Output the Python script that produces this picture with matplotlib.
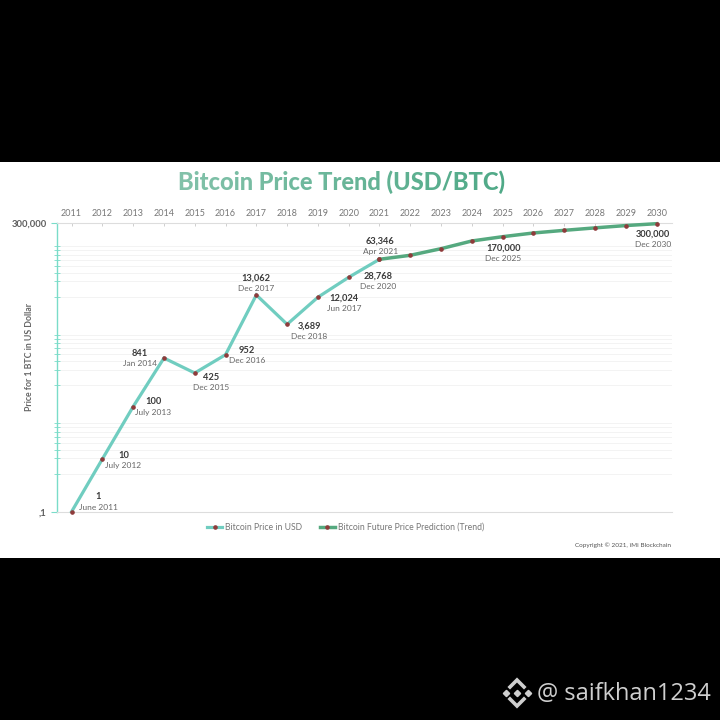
import numpy as np
import matplotlib
matplotlib.use("Agg")
import matplotlib.pyplot as plt
from matplotlib.lines import Line2D
from matplotlib.patches import Rectangle
from matplotlib.ticker import FixedLocator, NullFormatter

plt.rcParams['font.family'] = ['Lato', 'DejaVu Sans']

# Values as read from the chart's logarithmic gridlines (the printed price
# labels do not follow that axis, so they are kept separately).
history_years = [2011, 2012, 2013, 2014, 2015, 2016, 2017, 2018, 2019, 2020, 2021]
history_values = [0.1, 0.394, 1.54, 5.45, 3.69, 5.94, 28.1, 13.1, 26.5, 44.5, 71.1]
forecast_years = [2021, 2022, 2023, 2024, 2025, 2026, 2027, 2028, 2029, 2030]
forecast_values = [71.1, 78.9, 93.7, 114.5, 128, 141, 151, 161, 171, 179.5]

label_years = [2011, 2012, 2013, 2014, 2015, 2016, 2017, 2018, 2019, 2020, 2021, 2025, 2030]
label_prices = ['1', '10', '100', '841', '425', '952', '13,062', '3,689', '12,024',
                '28,768', '63,346', '170,000', '300,000']
label_dates = ['June 2011', 'July 2012', 'July 2013', 'Jan 2014', 'Dec 2015', 'Dec 2016',
               'Dec 2017', 'Dec 2018', 'Jun 2017', 'Dec 2020', 'Apr 2021', 'Dec 2025', 'Dec 2030']
label_offsets = [(26.5, 14.7), (21, 3.3), (20, 4.7), (-24, 5), (16.5, -4.5), (21.6, 4.2),
                 (0, 17), (22.5, -1.7), (26, -0.6), (29.5, 0.8), (0.7, 17.8), (0.6, -11.3),
                 (-3.7, -10.3)]

x_ticks = list(range(2011, 2031))
y_bottom, y_top = 0.1, 180.4
y_tick_values = [y_bottom, y_top]
y_tick_labels = [',1', '300,000']
minor_subs = [2.7, 4, 5, 6, 7, 8, 9, 10]
minor_decades = [0.1, 1, 10]

TEAL = '#70cdc0'
GREEN = '#55a97f'
MARK = '#8f3b3b'
AXIS = '#7adcc9'
GRID = '#f3f3f3'

W = H = 720
fig = plt.figure(figsize=(7.2, 7.2), dpi=100, facecolor='black')
fig.add_artist(Rectangle((0, 1 - 558 / H), 1, 396 / H, transform=fig.transFigure,
                         facecolor='white', edgecolor='none', zorder=-5))

ax = fig.add_axes([56.5 / W, 1 - 511.7 / H, (672 - 56.5) / W, (511.7 - 223.5) / H])
ax.patch.set_alpha(0)
ax.set_yscale('log')
ax.set_xlim(2010.51, 2030.5)
ax.set_ylim(y_bottom, y_top)

minor_values = sorted(s * d for d in minor_decades for s in minor_subs if s * d < y_top)
ax.yaxis.set_major_locator(FixedLocator(y_tick_values))
ax.set_yticklabels(y_tick_labels)
ax.yaxis.set_minor_locator(FixedLocator(minor_values))
ax.yaxis.set_minor_formatter(NullFormatter())
ax.grid(True, which='minor', axis='y', color=GRID, lw=0.7)
ax.set_axisbelow(True)

ax.set_xticks(x_ticks)
ax.set_xticklabels([str(y) for y in x_ticks])
ax.xaxis.tick_top()
ax.tick_params(axis='x', direction='in', length=2, width=0.6, color='#c8c8c8',
               labelcolor='#777777', labelsize=6.5, pad=4)
ax.tick_params(axis='y', which='major', length=4, width=0.8, color=AXIS, labelcolor='#5f5f5f',
               labelsize=6.8, pad=3)
ax.tick_params(axis='y', which='minor', direction='inout', length=4, width=0.6, color=AXIS)
for t in ax.get_yticklabels():
    t.set_fontweight('bold')

for side in ('top', 'bottom'):
    ax.spines[side].set_color('#dddddd')
    ax.spines[side].set_linewidth(0.8)
ax.spines['right'].set_visible(False)
ax.spines['left'].set_color(AXIS)
ax.spines['left'].set_linewidth(1.0)

ax.plot(history_years, history_values, color=TEAL, lw=2.3, solid_joinstyle='miter',
        marker='o', ms=2.3, mfc=MARK, mec=MARK, clip_on=False, zorder=3)
ax.plot(forecast_years, forecast_values, color=GREEN, lw=2.5,
        marker='o', ms=2.3, mfc=MARK, mec=MARK, clip_on=False, zorder=4)

all_years = history_years + forecast_years[1:]
all_values = history_values + forecast_values[1:]
for yr, price, date, (dx, dy) in zip(label_years, label_prices, label_dates, label_offsets):
    v = all_values[all_years.index(yr)]
    ax.annotate(price, (yr, v), xytext=(dx, dy), textcoords='offset pixels', ha='center',
                va='center', fontsize=6.7, fontweight='bold', color='#3a3a3a', zorder=6)
    ax.annotate(date, (yr, v), xytext=(dx, dy - 10.3), textcoords='offset pixels', ha='center',
                va='center', fontsize=6.0, color='#666666', zorder=6)

fig.text(30 / W, 1 - 357 / H, 'Price for 1 BTC in US Dollar', rotation=90, ha='center', va='center',
         fontsize=6.3, fontweight='bold', color='#666666')

fig.text(342 / W, 1 - 182 / H, 'Bitcoin Price Trend (USD/BTC)', ha='center', va='center',
         fontsize=17, fontweight='black', color='#4fa987')

# white veil that lightens the title towards its left end, giving its gradient
veil = fig.add_axes([175 / W, 1 - 197 / H, 335 / W, 30 / H], zorder=8)
veil.axis('off')
rgba = np.ones((1, 256, 4))
rgba[..., 3] = np.linspace(0.3, 0, 256)
veil.imshow(rgba, aspect='auto', extent=(0, 1, 0, 1))

handles = [
    Line2D([], [], color=TEAL, lw=2.3, marker='o', ms=2.3, mfc=MARK, mec=MARK),
    Line2D([], [], color=GREEN, lw=2.5, marker='o', ms=2.3, mfc=MARK, mec=MARK),
]
fig.legend(handles, ['Bitcoin Price in USD', 'Bitcoin Future Price Prediction (Trend)'],
           loc='center', bbox_to_anchor=(345.5 / W, 1 - 527.5 / H), ncol=2, frameon=False,
           fontsize=6.2, labelcolor='#777777', handlelength=1.75, handletextpad=0.35,
           columnspacing=2.0)

fig.text(671 / W, 1 - 545 / H, 'Copyright © 2021, iMi Blockchain', ha='right', va='center',
         fontsize=4.55, color='#555555')

fig.text(537 / W, 1 - 694 / H, '@ saifkhan1234', ha='left', va='center', fontsize=17,
         family=['Open Sans', 'DejaVu Sans'], color='#cfcfcf')

# Binance-style logo of the watermark
logo = fig.add_axes([500 / W, 1 - 710 / H, 34 / W, 34 / H], zorder=8)
logo.axis('off')
logo.set_xlim(-17, 17)
logo.set_ylim(-17, 17)
logo.patch.set_alpha(0)
logo_c = '#cfcfcf'
logo.plot([0, -11, 11], [0, 0, 0], ls='none', marker='D', ms=3.2, color=logo_c)
logo.plot([-7, 0, 7], [6, 13, 6], color=logo_c, lw=2.6, solid_joinstyle='miter')
logo.plot([-7, 0, 7], [-6, -13, -6], color=logo_c, lw=2.6, solid_joinstyle='miter')

fig.savefig('out.png', dpi=100, facecolor=fig.get_facecolor())
